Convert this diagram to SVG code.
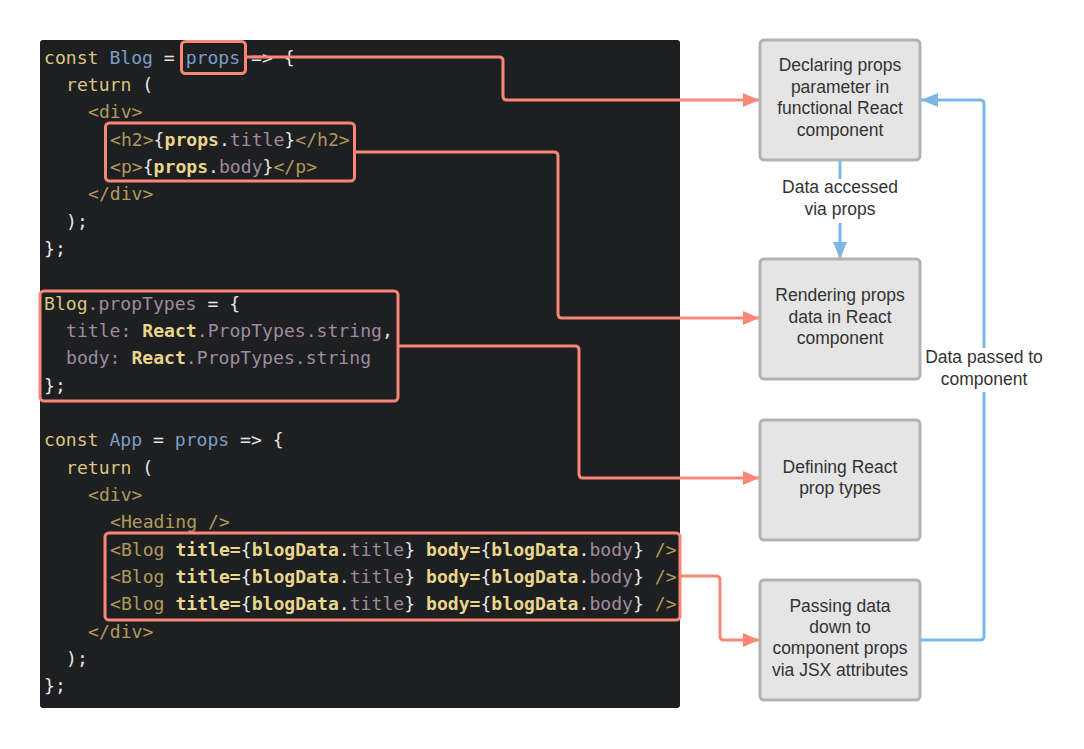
<svg xmlns="http://www.w3.org/2000/svg" width="1084" height="749" viewBox="0 0 1084 749">
<style>
.code{font-family:"DejaVu Sans Mono","Liberation Mono",monospace;font-size:18.1px;fill:#e6e6e6;white-space:pre}
.kw{fill:#dcc47f}
.bl{fill:#7d9dc9}
.tg{fill:#b09a5b}
.m{fill:#9f8ba2}
.by{fill:#e9d68b;font-weight:bold}
.hl{fill:none;stroke:#fa8776;stroke-width:3}
.box{fill:#e5e5e5;stroke:#b3b3b3;stroke-width:3}
.lbl{font-family:"Liberation Sans",Arial,sans-serif;font-size:17.5px;fill:#333333;text-anchor:middle}
.cs{fill:none;stroke:#fa8776;stroke-width:3}
.cb{fill:none;stroke:#7db7e5;stroke-width:3}
</style>
<defs>
<marker id="as" markerUnits="userSpaceOnUse" markerWidth="16" markerHeight="14" refX="16" refY="7" orient="auto"><path d="M0,0 L16,7 L0,14 z" fill="#fa8776"/></marker>
<marker id="ab" markerUnits="userSpaceOnUse" markerWidth="17" markerHeight="14" refX="17" refY="7" orient="auto"><path d="M0,0 L17,7 L0,14 z" fill="#7db7e5"/></marker>
</defs>
<rect width="1084" height="749" fill="#ffffff"/>
<g id="code">
<rect x="40" y="40" width="640" height="668" rx="3" fill="#1e1f21"/>
<text class="code" x="44" y="63.5"><tspan class="kw">const</tspan> <tspan class="bl">Blog</tspan> = <tspan class="bl">props</tspan> =&gt; {</text>
<text class="code" x="66" y="90.8"><tspan class="kw">return</tspan> (</text>
<text class="code tg" x="88" y="118.2">&lt;div&gt;</text>
<text class="code" x="110" y="145.5"><tspan class="tg">&lt;h2&gt;</tspan>{<tspan class="by">props</tspan>.<tspan class="m">title</tspan>}<tspan class="tg">&lt;/h2&gt;</tspan></text>
<text class="code" x="110" y="172.8"><tspan class="tg">&lt;p&gt;</tspan>{<tspan class="by">props</tspan>.<tspan class="m">body</tspan>}<tspan class="tg">&lt;/p&gt;</tspan></text>
<text class="code tg" x="88" y="200.2">&lt;/div&gt;</text>
<text class="code" x="66" y="227.5">);</text>
<text class="code" x="44" y="254.8">};</text>
<text class="code" x="44" y="309.5"><tspan class="kw">Blog</tspan><tspan class="m">.propTypes</tspan> = {</text>
<text class="code" x="66" y="336.8"><tspan class="m">title:</tspan> <tspan class="by">React</tspan><tspan class="m">.PropTypes.string</tspan>,</text>
<text class="code" x="66" y="364.2"><tspan class="m">body:</tspan> <tspan class="by">React</tspan><tspan class="m">.PropTypes.string</tspan></text>
<text class="code" x="44" y="391.5">};</text>
<text class="code" x="44" y="446.1"><tspan class="kw">const</tspan> <tspan class="bl">App</tspan> = <tspan class="bl">props</tspan> =&gt; {</text>
<text class="code" x="66" y="473.5"><tspan class="kw">return</tspan> (</text>
<text class="code tg" x="88" y="500.8">&lt;div&gt;</text>
<text class="code tg" x="110" y="528.1">&lt;Heading /&gt;</text>
<text class="code" x="110" y="555.5"><tspan class="tg">&lt;Blog</tspan> <tspan class="by">title=</tspan>{<tspan class="by">blogData</tspan>.<tspan class="m">title</tspan>} <tspan class="by">body=</tspan>{<tspan class="by">blogData</tspan>.<tspan class="m">body</tspan>} <tspan class="tg">/&gt;</tspan></text>
<text class="code" x="110" y="582.8"><tspan class="tg">&lt;Blog</tspan> <tspan class="by">title=</tspan>{<tspan class="by">blogData</tspan>.<tspan class="m">title</tspan>} <tspan class="by">body=</tspan>{<tspan class="by">blogData</tspan>.<tspan class="m">body</tspan>} <tspan class="tg">/&gt;</tspan></text>
<text class="code" x="110" y="610.1"><tspan class="tg">&lt;Blog</tspan> <tspan class="by">title=</tspan>{<tspan class="by">blogData</tspan>.<tspan class="m">title</tspan>} <tspan class="by">body=</tspan>{<tspan class="by">blogData</tspan>.<tspan class="m">body</tspan>} <tspan class="tg">/&gt;</tspan></text>
<text class="code tg" x="88" y="637.5">&lt;/div&gt;</text>
<text class="code" x="66" y="664.8">);</text>
<text class="code" x="44" y="692.1">};</text>
</g>
<g id="highlights">
<rect class="hl" x="181.5" y="41.5" width="64" height="32" rx="4"/>
<rect class="hl" x="105.5" y="123" width="249" height="58" rx="4"/>
<rect class="hl" x="40" y="291" width="358" height="110" rx="4"/>
<rect class="hl" x="105" y="533" width="575" height="87" rx="4"/>
</g>
<g id="connectors">
<path class="cs" d="M246,57 H499 Q503,57 503,61 V96 Q503,100 507,100 H759" marker-end="url(#as)"/>
<path class="cs" d="M355,152 H554 Q558,152 558,156 V314 Q558,318 562,318 H759" marker-end="url(#as)"/>
<path class="cs" d="M399,346 H575 Q579,346 579,350 V474 Q579,478 583,478 H759" marker-end="url(#as)"/>
<path class="cs" d="M681,576 H716 Q720,576 720,580 V636 Q720,640 724,640 H759" marker-end="url(#as)"/>
<path class="cb" d="M840,161 V179"/>
<path class="cb" d="M840,223 V259" marker-end="url(#ab)"/>
<path class="cb" d="M921,640 H980 Q984,640 984,636 V392"/>
<path class="cb" d="M984,348 V104 Q984,100 980,100 H921" marker-end="url(#ab)"/>
<text class="lbl" x="840" y="193">Data accessed</text>
<text class="lbl" x="840" y="215">via props</text>
<text class="lbl" x="984" y="363">Data passed to</text>
<text class="lbl" x="984" y="385">component</text>
</g>
<g id="node-declaring">
<rect class="box" x="760" y="40" width="160" height="120" rx="4"/>
<text class="lbl" x="840" y="71">Declaring props</text>
<text class="lbl" x="840" y="93">parameter in</text>
<text class="lbl" x="840" y="114">functional React</text>
<text class="lbl" x="840" y="136">component</text>
</g>
<g id="node-rendering">
<rect class="box" x="760" y="259" width="160" height="120" rx="4"/>
<text class="lbl" x="840" y="301">Rendering props</text>
<text class="lbl" x="840" y="323">data in React</text>
<text class="lbl" x="840" y="344">component</text>
</g>
<g id="node-defining">
<rect class="box" x="760" y="420" width="160" height="120" rx="4"/>
<text class="lbl" x="840" y="473">Defining React</text>
<text class="lbl" x="840" y="494">prop types</text>
</g>
<g id="node-passing">
<rect class="box" x="760" y="580" width="160" height="120" rx="4"/>
<text class="lbl" x="840" y="612">Passing data</text>
<text class="lbl" x="840" y="633">down to</text>
<text class="lbl" x="840" y="654">component props</text>
<text class="lbl" x="840" y="676">via JSX attributes</text>
</g>
</svg>
